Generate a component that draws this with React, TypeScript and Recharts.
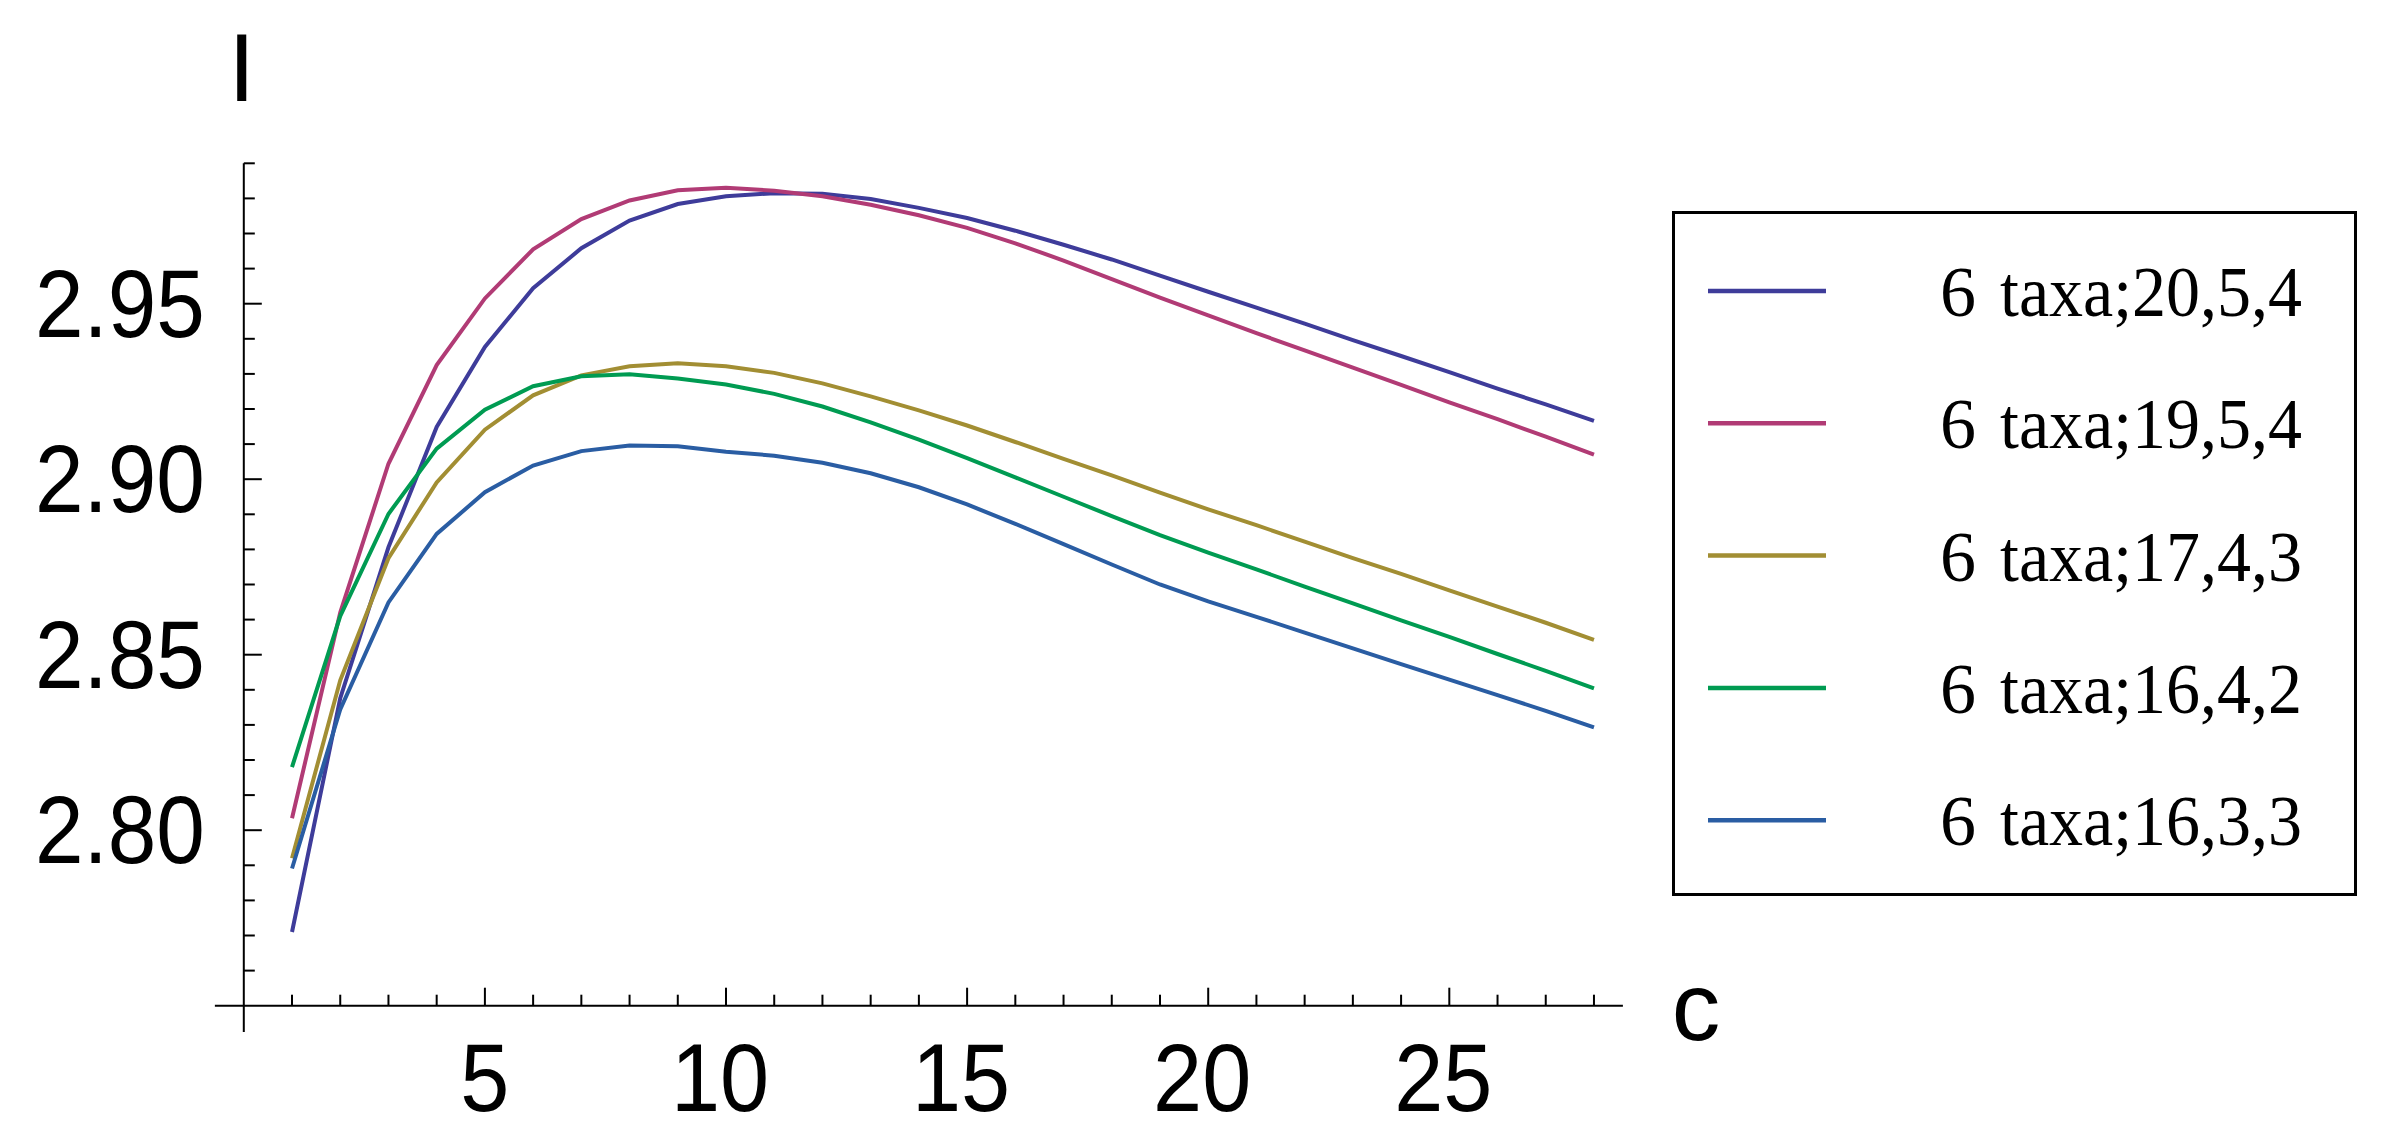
import React from "react"
import { LineChart, Line, XAxis, YAxis, ReferenceLine, Label } from "recharts"

// c = 1 .. 28
const cValues = [1, 2, 3, 4, 5, 6, 7, 8, 9, 10, 11, 12, 13, 14, 15, 16, 17, 18, 19, 20, 21, 22, 23, 24, 25, 26, 27, 28]

const taxa20_5_4 = [
  2.771, 2.8376, 2.8806, 2.9149, 2.9377, 2.9544, 2.9658, 2.9737, 2.9784, 2.9806,
  2.9815, 2.9813, 2.9798, 2.9773, 2.9744, 2.9708, 2.9668, 2.9626, 2.958, 2.9534,
  2.9489, 2.9443, 2.9396, 2.9351, 2.9305, 2.9258, 2.9213, 2.9166,
]
const taxa19_5_4 = [
  2.8034, 2.862, 2.9044, 2.9325, 2.9515, 2.9655, 2.9741, 2.9794, 2.9823, 2.983,
  2.9822, 2.9806, 2.9782, 2.9752, 2.9716, 2.9672, 2.9623, 2.957, 2.9517, 2.9467,
  2.9416, 2.9367, 2.9318, 2.9269, 2.9219, 2.9171, 2.9121, 2.907,
]
const taxa17_4_3 = [
  2.792, 2.8427, 2.8775, 2.8991, 2.9141, 2.9239, 2.9296, 2.9322, 2.933, 2.9322,
  2.9303, 2.9273, 2.9236, 2.9196, 2.9153, 2.9106, 2.9058, 2.9011, 2.8962, 2.8914,
  2.8869, 2.8822, 2.8775, 2.873, 2.8683, 2.8637, 2.8591, 2.8542,
]
const taxa16_4_2 = [
  2.818, 2.861, 2.8901, 2.9087, 2.9198, 2.9265, 2.9293, 2.9299, 2.9287, 2.927,
  2.9243, 2.9207, 2.9162, 2.9113, 2.906, 2.9005, 2.895, 2.8895, 2.8841, 2.8791,
  2.8743, 2.8694, 2.8646, 2.8598, 2.8551, 2.8502, 2.8454, 2.8404,
]
const taxa16_3_3 = [
  2.7891, 2.8344, 2.8649, 2.8844, 2.8963, 2.9039, 2.908, 2.9096, 2.9094, 2.9078,
  2.9067, 2.9047, 2.9017, 2.8977, 2.8928, 2.8873, 2.8815, 2.8757, 2.87, 2.8652,
  2.8608, 2.8563, 2.8518, 2.8473, 2.8429, 2.8385, 2.834, 2.8293,
]

const seriesKeys = ["s20_5_4", "s19_5_4", "s17_4_3", "s16_4_2", "s16_3_3"]
const seriesNames = ["6 taxa;20,5,4", "6 taxa;19,5,4", "6 taxa;17,4,3", "6 taxa;16,4,2", "6 taxa;16,3,3"]
const seriesColors = ["#3e3c9a", "#b13b75", "#a28e33", "#009b52", "#2a5da3"]
const seriesValues = [taxa20_5_4, taxa19_5_4, taxa17_4_3, taxa16_4_2, taxa16_3_3]

const xTicks = [1, 2, 3, 4, 5, 6, 7, 8, 9, 10, 11, 12, 13, 14, 15, 16, 17, 18, 19, 20, 21, 22, 23, 24, 25, 26, 27, 28]
const xLabelTicks = [5, 10, 15, 20, 25]
const yTicks = [
  2.76, 2.77, 2.78, 2.79, 2.8, 2.81, 2.82, 2.83, 2.84, 2.85, 2.86, 2.87,
  2.88, 2.89, 2.9, 2.91, 2.92, 2.93, 2.94, 2.95, 2.96, 2.97, 2.98, 2.99,
]
const yLabelTicks = [2.8, 2.85, 2.9, 2.95]
const yTickLabels = ["2.80", "2.85", "2.90", "2.95"]

const data = cValues.map((c, i) => {
  const row: Record<string, number> = { c }
  seriesKeys.forEach((k, s) => {
    row[k] = seriesValues[s][i]
  })
  return row
})

const SANS = "'Liberation Sans', Arial, Helvetica, sans-serif"
const SERIF = "'Liberation Serif', 'Times New Roman', serif"

function XTick(props: any) {
  const { x, y, payload } = props
  const v = payload.value
  const major = xLabelTicks.includes(v)
  const label = String(v)
  return (
    <g>
      <line x1={x} x2={x} y1={y} y2={y - (major ? 18 : 11)} stroke="#000" strokeWidth={2} />
      {major && (
        <text
          transform={`translate(${x + (label.length > 1 ? -6 : 0)},${y + 105}) scale(0.92,1)`}
          textAnchor="middle"
          fontFamily={SANS}
          fontSize={96}
          fill="#000"
        >
          {label}
        </text>
      )}
    </g>
  )
}

function YTick(props: any) {
  const { x, y, payload } = props
  const v = payload.value
  const idx = yLabelTicks.findIndex((m) => Math.abs(m - v) < 1e-6)
  const major = idx >= 0
  return (
    <g>
      <line x1={x} x2={x + (major ? 18 : 11)} y1={y} y2={y} stroke="#000" strokeWidth={2} />
      {major && (
        <text
          transform={`translate(${x - 39},${y + 33}) scale(0.9,1)`}
          textAnchor="end"
          fontFamily={SANS}
          fontSize={97}
          fill="#000"
        >
          {yTickLabels[idx]}
        </text>
      )}
    </g>
  )
}

function YAxisName(props: any) {
  const vb = props.viewBox || {}
  return (
    <text x={vb.x + vb.width - 2} y={vb.y - 62} textAnchor="middle" fontFamily={SANS} fontSize={97} fill="#000">
      I
    </text>
  )
}

function XAxisName(props: any) {
  const vb = props.viewBox || {}
  return (
    <text x={vb.x + vb.width + 73} y={vb.y + 34} textAnchor="middle" fontFamily={SANS} fontSize={97} fill="#000">
      c
    </text>
  )
}

function LegendBox() {
  return (
    <div style={{ position: "absolute", left: 1672, top: 211, width: 685, height: 685 }}>
      <svg width={685} height={685}>
        <rect x={1.5} y={1.5} width={682} height={682} fill="#fff" stroke="#000" strokeWidth={3} />
        {seriesNames.map((name, i) => {
          const rowY = 80 + i * 132.3
          const head = name.slice(0, 1)
          const rest = name.slice(2)
          return (
            <g key={name}>
              <line x1={36} x2={154} y1={rowY} y2={rowY} stroke={seriesColors[i]} strokeWidth={4.5} />
              <text y={rowY + 25} fontFamily={SERIF} fontSize={72} fill="#000">
                <tspan x={268}>{head}</tspan>
                <tspan x={328} textLength={302} lengthAdjust="spacingAndGlyphs">
                  {rest}
                </tspan>
              </text>
            </g>
          )
        })}
      </svg>
    </div>
  )
}

export default function App() {
  return (
    <div style={{ position: "absolute", left: 0, top: 0, width: 2382, height: 1136, background: "#fff" }}>
      <LineChart
        width={2382}
        height={1136}
        data={data}
        margin={{ top: 163.3, right: 759.1, bottom: 70.3, left: 143.8 }}
      >
        <XAxis
          type="number"
          dataKey="c"
          domain={[0, 28.6]}
          ticks={xTicks}
          interval={0}
          allowDataOverflow
          axisLine={false}
          tickLine={false}
          tickSize={0}
          tickMargin={0}
          height={60}
          tick={(p: any) => <XTick {...p} />}
        >
          <Label content={(p: any) => <XAxisName {...p} />} />
        </XAxis>
        <YAxis
          type="number"
          domain={[2.75, 2.99]}
          ticks={yTicks}
          interval={0}
          allowDataOverflow
          axisLine={false}
          tickLine={false}
          tickSize={0}
          tickMargin={0}
          width={100}
          tick={(p: any) => <YTick {...p} />}
        >
          <Label content={(p: any) => <YAxisName {...p} />} />
        </YAxis>
        <ReferenceLine
          segment={[{ x: -0.6, y: 2.75 }, { x: 28.6, y: 2.75 }]}
          stroke="#000"
          strokeWidth={2}
          ifOverflow="visible"
        />
        <ReferenceLine
          segment={[{ x: 0, y: 2.7425 }, { x: 0, y: 2.99 }]}
          stroke="#000"
          strokeWidth={2}
          ifOverflow="visible"
        />
        {seriesKeys.map((k, i) => (
          <Line
            key={k}
            type="linear"
            dataKey={k}
            name={seriesNames[i]}
            stroke={seriesColors[i]}
            strokeWidth={4}
            dot={false}
            activeDot={false}
            isAnimationActive={false}
          />
        ))}
      </LineChart>
      <LegendBox />
    </div>
  )
}
